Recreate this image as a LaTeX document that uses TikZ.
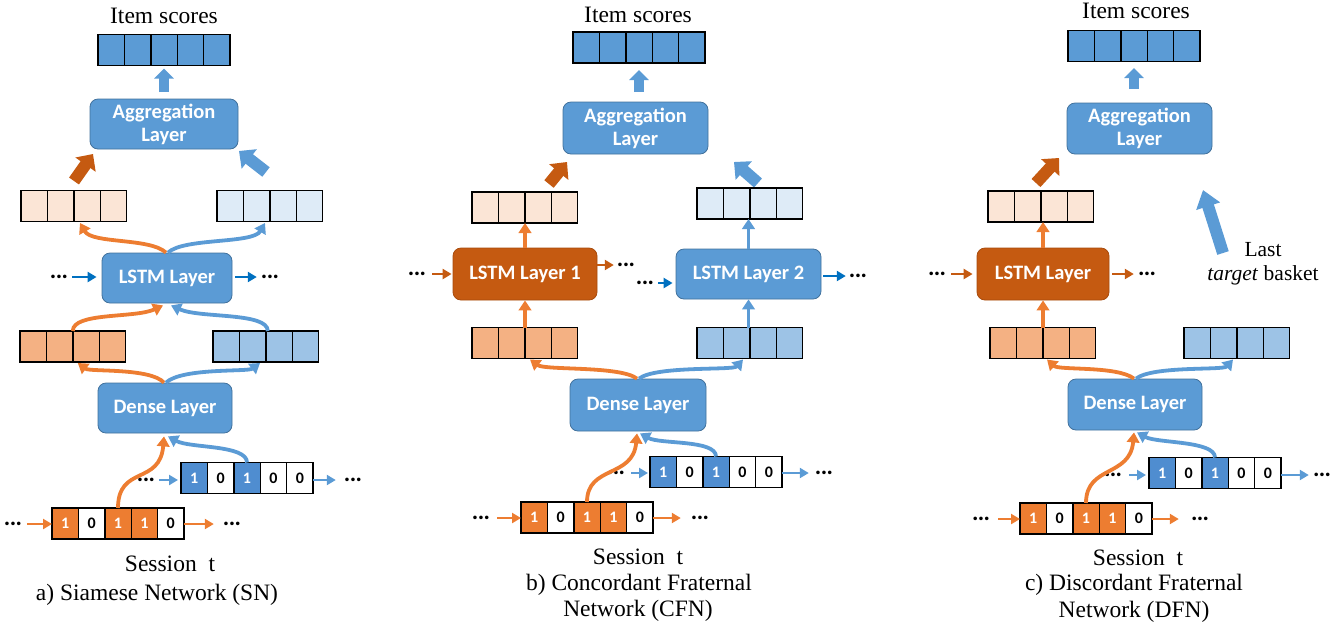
\documentclass[tikz,border=0pt]{standalone}
\usepackage{fontspec}
\setmainfont{Liberation Serif}
\newfontfamily\boxfont{Carlito}
\usetikzlibrary{arrows.meta,calc}

\definecolor{bxblue}{HTML}{5B9BD5}
\definecolor{bxbline}{HTML}{41719C}
\definecolor{bxor}{HTML}{C55A11}
\definecolor{bxorline}{HTML}{A84B0C}
\definecolor{cor}{HTML}{ED7D31}
\definecolor{cbl}{HTML}{4F8DD0}
\definecolor{lor}{HTML}{FBE5D6}
\definecolor{mor}{HTML}{F4B183}
\definecolor{lbl}{HTML}{DEEBF7}
\definecolor{mbl}{HTML}{9DC3E6}
\definecolor{dblue}{HTML}{0070C0}

\tikzset{
 layer/.style={rounded corners=8pt, fill=bxblue, draw=bxbline, line width=0.8pt, text=white,
   font=\boxfont\bfseries\fontsize{20.5}{23}\selectfont, align=center, inner sep=0pt},
 layeror/.style={layer, fill=bxor, draw=bxorline},
 cell/.style={draw=black, line width=1.4pt, minimum width=26.4pt, minimum height=31pt,
   inner sep=0pt, outer sep=0pt, font=\boxfont\bfseries\fontsize{16}{17}\selectfont},
 serif/.style={font=\fontsize{23.5}{25}\selectfont, inner sep=0pt, anchor=base},
 serifsm/.style={font=\fontsize{21.5}{23}\selectfont, inner sep=0pt, anchor=base},
 dots/.style={font=\boxfont\bfseries\fontsize{24}{24}\selectfont, inner sep=0pt},
 sarrow/.style={line width=2.8pt, -{Triangle[length=9pt,width=10pt]}},
 curv/.style={line width=3.8pt, -{Triangle[length=10pt,width=12.5pt]}},
 upar/.style={line width=3.8pt, -{Triangle[length=10pt,width=12.5pt]}},
 block/.style={line width=12pt, -{Triangle[length=13pt,width=24pt]}},
 smblock/.style={line width=10pt, -{Triangle[length=10pt,width=19pt]}},
 bigblock/.style={line width=12pt, -{Triangle[length=17pt,width=24pt]}},
}

\newcommand\cellrow[5]{%
 \foreach \i in {1,...,#4}{\node[cell, fill=#5] (#1\i) at ({#2+(\i-0.5)*26.4},#3) {};}}
\newcommand\invec[5]{%
 \foreach \d [count=\i] in {#5}{%
  \ifnum\d=1 \node[cell, fill=#4, text=white] (#1\i) at ({#2+(\i-0.5)*26.4},#3) {1};%
  \else \node[cell, fill=white] (#1\i) at ({#2+(\i-0.5)*26.4},#3) {0};\fi}}
\newcommand\threedots{.\kern-0.6pt.\kern-0.6pt.}

\begin{document}
\begin{tikzpicture}[x=1pt,y=-1pt]
\useasboundingbox (0,0) rectangle (1337,625);

%%%%%%%%%%%%%%%% Panel a
\node[serif] (aT) at (164,23) {Item scores};
\cellrow{aS}{98}{50}{5}{bxblue}
\node[layer, minimum width=148pt, minimum height=50pt] (aAgg) at (164,124) {Aggregation\\Layer};
\draw[smblock, bxblue] ($(aS3.south)+(0,26.5)$) -- ($(aS3.south)+(0,3)$);
\coordinate (aOb1) at (74,181); \coordinate (aOb2) at (93,154);
\draw[block, bxor] (aOb1) -- (aOb2);
\coordinate (aBb1) at (266,172); \coordinate (aBb2) at (239,151);
\draw[block, bxblue] (aBb1) -- (aBb2);

\cellrow{aTL}{21}{206}{4}{lor}
\cellrow{aTR}{217}{206}{4}{lbl}
\node[layer, minimum width=130pt, minimum height=50pt] (aLa) at (167,278) {LSTM Layer};
\node[dots] (ad1) at (59,277) {\threedots};
\node[dots] (ad2) at (270,277) {\threedots};
\draw[sarrow, dblue] ($(ad1.east)+(4,0)$) -- ($(aLa.west|-ad1)+(-5,0)$);
\draw[sarrow, dblue] ($(aLa.east|-ad2)+(3,0)$) -- ($(ad2.west)+(-4,0)$);

\cellrow{aML}{20}{346.5}{4}{mor}
\cellrow{aMR}{213}{346.5}{4}{mbl}
\node[layer, minimum width=134pt, minimum height=50pt] (aDn) at (165,408) {Dense Layer};
\invec{aIB}{181}{478}{cbl}{1,0,1,0,0}
\invec{aIO}{52}{523.5}{cor}{1,0,1,1,0}
\node[dots] (ad3) at (146,480) {\threedots};
\node[dots] (ad4) at (353,480) {\threedots};
\node[dots] (ad5) at (13,524) {\threedots};
\node[dots] (ad6) at (232,524) {\threedots};
\draw[sarrow, bxblue] ($(ad3.east)+(4,0)$) -- ($(aIB1.west|-ad3)+(-3,0)$);
\draw[sarrow, bxblue] (aIB5.east|-ad4) -- ($(ad4.west)+(-8,0)$);
\draw[sarrow, cor] ($(ad5.east)+(5,0)$) -- (aIO1.west|-ad5);
\draw[sarrow, cor] (aIO5.east|-ad6) -- ($(ad6.west)+(-9,0)$);

\draw[curv, cor] ($(aLa.north)+(-1,0)$) .. controls +(-16,-15) and +(12,21) .. ($(aTL3.south)+(-7,1.5)$);
\draw[curv, bxblue] ($(aLa.north)+(1,0)$) .. controls +(16,-15) and +(-12,21) .. ($(aTR2.south)+(8.4,1.5)$);
\draw[curv, cor] (aML2.north east) .. controls +(0,-19) and +(-28,13) .. ($(aLa.south)+(-4,2)$);
\draw[curv, bxblue] ($(aMR3.north west)+(2,0)$) .. controls +(0,-19) and +(29,13) .. ($(aLa.south)+(4,2)$);
\draw[curv, cor] ($(aDn.north)+(-1,0)$) .. controls +(-14,-15) and +(12,9) .. ($(aML3.south west)+(5,1)$);
\draw[curv, bxblue] ($(aDn.north)+(1,0)$) .. controls +(16,-15) and +(-12,9) .. ($(aMR2.south)+(7.4,1)$);
\draw[curv, cor] (aIO3.north) .. controls +(0,-43) and +(-4,49) .. ($(aDn.south)+(-1,3)$);
\draw[curv, bxblue] (aIB3.north) .. controls +(0,-18) and +(22,12) .. ($(aDn.south)+(3,3)$);

\node[serif] (aSe) at (170,571) {Session\ \ t};
\node[serif] (aCap) at (157,600) {a) Siamese Network (SN)};

%%%%%%%%%%%%%%%% Panel b
\node[serif] (bT) at (638,22) {Item scores};
\cellrow{bS}{573}{47.5}{5}{bxblue}
\node[layer, minimum width=145pt, minimum height=52pt] (bAgg) at (635.5,128) {Aggregation\\Layer};
\draw[smblock, bxblue] ($(bS3.south)+(0,29)$) -- ($(bS3.south)+(0,7)$);
\coordinate (bOb1) at (549,184); \coordinate (bOb2) at (567,162);
\draw[block, bxor] (bOb1) -- (bOb2);
\coordinate (bBb1) at (758,183); \coordinate (bBb2) at (734,162);
\draw[block, bxblue] (bBb1) -- (bBb2);

\cellrow{bTL}{472}{207.5}{4}{lor}
\cellrow{bTR}{697}{203.5}{4}{lbl}
\node[layeror, minimum width=144pt, minimum height=52pt] (bLa) at (525,274) {LSTM Layer 1};
\node[layer, minimum width=145pt, minimum height=50pt] (bLb) at (748.5,274) {LSTM Layer 2};
\node[dots] (bd1) at (417,274) {\threedots};
\node[dots] (bd2) at (626,265) {\threedots};
\node[dots] (bd3) at (645,283) {\threedots};
\node[dots] (bd4) at (858,276) {\threedots};
\draw[sarrow, bxor] ($(bd1.east)+(6,0)$) -- ($(bLa.west|-bd1)+(-1,0)$);
\draw[sarrow, bxor] (bLa.east|-bd2) -- ($(bd2.west)+(-3,0)$);
\draw[sarrow, dblue] ($(bd3.east)+(4,0)$) -- ($(bLb.west|-bd3)+(-3,0)$);
\draw[sarrow, dblue] ($(bLb.east|-bd4)+(2,0)$) -- ($(bd4.west)+(-3,0)$);
\draw[upar, cor] (bLa.north) -- (bLa.north|-bTL2.south);
\draw[upar, bxblue] (bLb.north) -- (bLb.north|-bTR2.south);

\cellrow{bML}{472}{343}{4}{mor}
\cellrow{bMR}{697}{343}{4}{mbl}
\draw[upar, cor] (bLa.south|-bML2.north) -- (bLa.south);
\draw[upar, bxblue] (bLb.south|-bMR2.north) -- (bLb.south);
\node[layer, minimum width=136pt, minimum height=52pt] (bDn) at (638,405) {Dense Layer};
\invec{bIB}{650}{472}{cbl}{1,0,1,0,0}
\invec{bIO}{521}{517.5}{cor}{1,0,1,1,0}
\node[dots] (bd5) at (616,473) {\threedots};
\node[dots] (bd6) at (824,473) {\threedots};
\node[dots] (bd7) at (481,518) {\threedots};
\node[dots] (bd8) at (700,518) {\threedots};
\draw[sarrow, bxblue] ($(bd5.east)+(6,0)$) -- ($(bIB1.west|-bd5)+(-2,0)$);
\draw[sarrow, bxblue] (bIB5.east|-bd6) -- ($(bd6.west)+(-6,0)$);
\draw[sarrow, cor] ($(bd7.east)+(7,0)$) -- (bIO1.west|-bd7);
\draw[sarrow, cor] (bIO5.east|-bd8) -- ($(bd8.west)+(-10,0)$);

\draw[curv, cor] ($(bDn.north)+(-1,0)$) .. controls +(-17,-13) and +(15,11) .. ($(bML3.south)+(-8,1)$);
\draw[curv, bxblue] ($(bDn.north)+(1,0)$) .. controls +(17,-13) and +(-10,11) .. ($(bMR2.south)+(6.4,1)$);
\draw[curv, cor] (bIO3.north) .. controls +(0,-37) and +(-4,45) .. ($(bDn.south)+(-1,2)$);
\draw[curv, bxblue] (bIB3.north) .. controls +(0,-17) and +(20,11) .. ($(bDn.south)+(2,2)$);

\node[serif] (bSe) at (638,564) {Session\ \ t};
\node[serif] (bCap1) at (639,590) {b) Concordant Fraternal};
\node[serif] (bCap2) at (638,616) {Network (CFN)};

%%%%%%%%%%%%%%%% Panel c
\node[serif] (cT) at (1136,18) {Item scores};
\cellrow{cS}{1068}{46}{5}{bxblue}
\node[layer, minimum width=145pt, minimum height=51pt] (cAgg) at (1139.5,128.5) {Aggregation\\Layer};
\draw[smblock, bxblue] ($(cS3.south)+(0,27.5)$) -- ($(cS3.south)+(0,6.5)$);
\coordinate (cOb1) at (1036,183); \coordinate (cOb2) at (1059,158);
\draw[block, bxor] (cOb1) -- (cOb2);
\coordinate (cBb1) at (1223,253); \coordinate (cBb2) at (1203,190);
\draw[bigblock, bxblue] (cBb1) -- (cBb2);
\node[serifsm] (cLast) at (1263,256) {Last};
\node[serifsm] (cTarget) at (1263,280) {\textit{target} basket};

\cellrow{cTL}{988}{206.5}{4}{lor}
\node[layeror, minimum width=132pt, minimum height=52pt] (cLa) at (1043,274) {LSTM Layer};
\node[dots] (cd1) at (937,274) {\threedots};
\node[dots] (cd2) at (1147,274) {\threedots};
\draw[sarrow, bxor] ($(cd1.east)+(5,0)$) -- ($(cLa.west|-cd1)+(-4,0)$);
\draw[sarrow, bxor] ($(cLa.east|-cd2)+(3,0)$) -- ($(cd2.west)+(-4,0)$);
\draw[upar, cor] (cLa.north) -- (cLa.north|-cTL2.south);

\cellrow{cML}{990}{343}{4}{mor}
\cellrow{cMR}{1184}{343}{4}{mbl}
\draw[upar, cor] (cLa.south|-cML2.north) -- (cLa.south);
\node[layer, minimum width=134pt, minimum height=51pt] (cDn) at (1135,404.5) {Dense Layer};
\invec{cIB}{1149}{473}{cbl}{1,0,1,0,0}
\invec{cIO}{1020}{518.5}{cor}{1,0,1,1,0}
\node[dots] (cd3) at (1113,475) {\threedots};
\node[dots] (cd4) at (1322,475) {\threedots};
\node[dots] (cd5) at (981,519) {\threedots};
\node[dots] (cd6) at (1200,519) {\threedots};
\draw[sarrow, bxblue] ($(cd3.east)+(7,0)$) -- ($(cIB1.west|-cd3)+(-3,0)$);
\draw[sarrow, bxblue] (cIB5.east|-cd4) -- ($(cd4.west)+(-4,0)$);
\draw[sarrow, cor] ($(cd5.east)+(8,0)$) -- (cIO1.west|-cd5);
\draw[sarrow, cor] (cIO5.east|-cd6) -- ($(cd6.west)+(-12,0)$);

\draw[curv, cor] ($(cDn.north)+(-1,0)$) .. controls +(-17,-13) and +(12,11) .. ($(cML3.south)+(-9,1)$);
\draw[curv, bxblue] ($(cDn.north)+(1,0)$) .. controls +(17,-13) and +(-10,11) .. ($(cMR2.south)+(9.4,1)$);
\draw[curv, cor] (cIO3.north) .. controls +(0,-38) and +(-4,45) .. ($(cDn.south)+(-1,2)$);
\draw[curv, bxblue] (cIB3.north) .. controls +(0,-17) and +(20,11) .. ($(cDn.south)+(2,2)$);

\node[serif] (cSe) at (1138,565) {Session\ \ t};
\node[serif] (cCap1) at (1134,590) {c) Discordant Fraternal};
\node[serif] (cCap2) at (1134,617) {Network (DFN)};
\end{tikzpicture}
\end{document}
